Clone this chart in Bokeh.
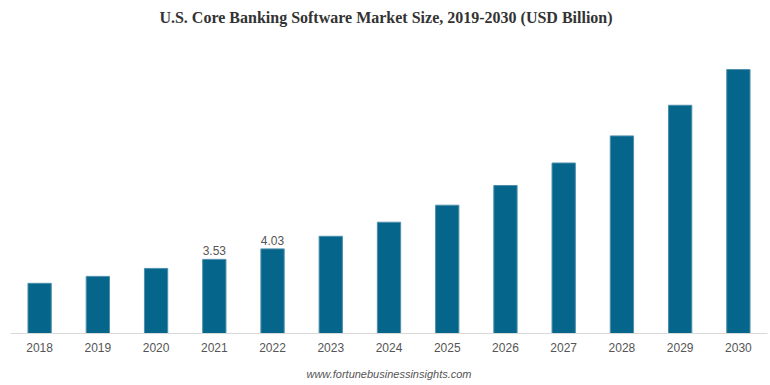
from bokeh.plotting import figure
from bokeh.models import ColumnDataSource, Range1d, FactorRange, LabelSet, Label
from bokeh.core.properties import value
from bokeh.embed import file_html
from bokeh.resources import INLINE

years = ["2018", "2019", "2020", "2021", "2022", "2023", "2024",
         "2025", "2026", "2027", "2028", "2029", "2030"]
market_size = [2.39, 2.72, 3.10, 3.53, 4.03, 4.63, 5.30,
               6.11, 7.05, 8.12, 9.41, 10.87, 12.57]
labeled_years = ["2021", "2022"]
title_text = "U.S. Core Banking Software Market Size, 2019-2030 (USD Billion)"
source_text = "www.fortunebusinessinsights.com"

bar_color = "#05658b"
text_gray = "#555555"

src = ColumnDataSource(dict(year=years, value=market_size))
lab_vals = [market_size[years.index(y)] for y in labeled_years]
lab_src = ColumnDataSource(dict(year=labeled_years, value=lab_vals,
                                text=["%.2f" % v for v in lab_vals]))

p = figure(x_range=FactorRange(*years), y_range=Range1d(0, 15.86),
           width=768, height=383, output_backend="svg", toolbar_location=None,
           min_border_left=10, min_border_right=1, min_border_top=0,
           min_border_bottom=50)

p.vbar(x="year", top="value", width=0.4, source=src,
       fill_color=bar_color, line_color="#4d8fab", line_width=1)

p.add_layout(LabelSet(x="year", y="value", text="text", source=lab_src,
                      y_offset=4, text_align="center", text_baseline="bottom",
                      text_font=value("Liberation Sans"), text_font_size="12px",
                      text_color=text_gray))

p.add_layout(Label(x=len(years) / 2, y=15.06, x_offset=-3, text=title_text,
                   text_align="center", text_baseline="middle",
                   text_font="Liberation Serif", text_font_size="16px",
                   text_font_style="bold", text_color="#333333"))

p.yaxis.visible = False
p.xgrid.grid_line_color = None
p.ygrid.grid_line_color = None
p.outline_line_color = None
p.xaxis.axis_line_color = "#d9d9d9"
p.xaxis.major_tick_line_color = None
p.xaxis.minor_tick_line_color = None
p.xaxis.major_label_standoff = 3
p.xaxis.major_label_text_font = "Liberation Sans"
p.xaxis.major_label_text_font_size = "12px"
p.xaxis.major_label_text_color = text_gray
p.xaxis.axis_label = source_text
p.xaxis.axis_label_standoff = 13
p.xaxis.axis_label_text_font = "Liberation Sans"
p.xaxis.axis_label_text_font_size = "11px"
p.xaxis.axis_label_text_font_style = "italic"
p.xaxis.axis_label_text_color = text_gray

open("out.html", "w").write(file_html(p, INLINE))
